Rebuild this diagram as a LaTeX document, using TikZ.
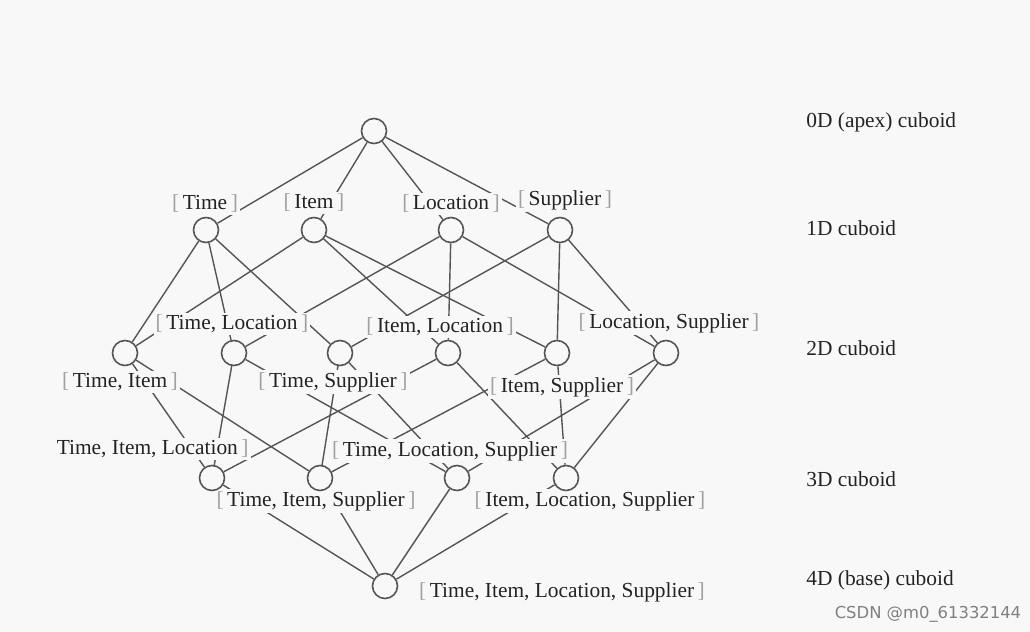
\documentclass[tikz,border=0pt]{standalone}
\usepackage{fontspec}
\setmainfont{Liberation Serif}
\newfontfamily\wmfont{DejaVu Sans}
\usepackage{tikz}
\definecolor{bg}{RGB}{248, 248, 248}
\definecolor{edge}{RGB}{85, 85, 85}
\definecolor{ink}{RGB}{35, 35, 35}
\definecolor{brk}{RGB}{160, 160, 160}
\newcommand{\lb}{{\color{brk}[}\,}
\newcommand{\rb}{\,{\color{brk}]}}
\pgfdeclarelayer{canvas}
\pgfdeclarelayer{back}
\pgfsetlayers{canvas, back, main}

\begin{document}
\begin{tikzpicture}[
   x=0.5pt, y=-0.5pt,
   cub/.style={circle, draw=edge, fill=bg, line width=0.8, inner sep=0,
               minimum size=12.5pt},
   lab/.style={fill=bg, text=ink, inner sep=1pt,
               font=\fontsize{10.7}{12}\selectfont},
   dimlab/.style={anchor=west, text=ink, inner sep=0,
                  font=\fontsize{10.7}{12}\selectfont},
   link/.style={draw=edge, line width=0.7}
  ]

  % Canvas
  \begin{pgfonlayer}{canvas}
    \fill[bg] (0, 0) rectangle (1030, 632);
  \end{pgfonlayer}
  \useasboundingbox (0, 0) rectangle (1030, 632);

  % 0D and 1D
  \node (A) at (374, 131) [cub] {};
  \node (T) at (206, 230) [cub] {};
  \node (I) at (314, 230) [cub] {};
  \node (L) at (451, 230) [cub] {};
  \node (S) at (560, 230) [cub] {};

  % 2D
  \node (TI) at (125, 353) [cub] {};
  \node (TL) at (234, 353) [cub] {};
  \node (TS) at (340, 353) [cub] {};
  \node (IL) at (448, 353) [cub] {};
  \node (IS) at (557, 353) [cub] {};
  \node (LS) at (666, 353) [cub] {};

  % 3D and 4D
  \node (TIL) at (212, 478) [cub] {};
  \node (TIS) at (320, 478) [cub] {};
  \node (TLS) at (457, 478) [cub] {};
  \node (ILS) at (566, 478) [cub] {};
  \node (TILS) at (385, 586) [cub] {};

  \begin{pgfonlayer}{back}
    \foreach \B/\E in {A/T, A/I, A/L, A/S,
                       T/TI, T/TL, T/TS, I/TI, I/IL, I/IS,
                       L/TL, L/IL, L/LS, S/TS, S/IS, S/LS,
                       TI/TIL, TI/TIS, TL/TIL, TL/TLS, TS/TIS, TS/TLS,
                       IL/TIL, IL/ILS, IS/TIS, IS/ILS, LS/TLS, LS/ILS,
                       TIL/TILS, TIS/TILS, TLS/TILS, ILS/TILS} {
      \draw[link] (\B) -- (\E);
    }

    % Labels
    \node (lT) at (205, 204) [lab] {\lb Time\rb};
    \node (lI) at (314, 203) [lab] {\lb Item\rb};
    \node (lL) at (451, 204) [lab] {\lb Location\rb};
    \node (lS) at (565, 200) [lab] {\lb Supplier\rb};

    \node (lTL) at (232, 324) [lab] {\lb Time, Location\rb};
    \node (lIL) at (440, 327) [lab] {\lb Item, Location\rb};
    \node (lLS) at (669, 323) [lab] {\lb Location, Supplier\rb};
    \node (lTI) at (120, 382) [lab] {\lb Time, Item\rb};
    \node (lTS) at (333, 382) [lab] {\lb Time, Supplier\rb};
    \node (lIS) at (562, 387) [lab] {\lb Item, Supplier\rb};

    \node (lTIL) at (251, 449) [lab, anchor=east] {Time, Item, Location\rb};
    \node (lTLS) at (450, 451) [lab] {\lb Time, Location, Supplier\rb};
    \node (lTIS) at (316, 501) [lab] {\lb Time, Item, Supplier\rb};
    \node (lILS) at (590, 501) [lab] {\lb Item, Location, Supplier\rb};

    \node (lTILS) at (562, 592) [lab] {\lb Time, Item, Location, Supplier\rb};
  \end{pgfonlayer}

  % Levels
  \node (d0) at (806, 122) [dimlab] {0D (apex) cuboid};
  \node (d1) at (806, 228) [dimlab] {1D cuboid};
  \node (d2) at (806, 348) [dimlab] {2D cuboid};
  \node (d3) at (806, 479) [dimlab] {3D cuboid};
  \node (d4) at (806, 580) [dimlab] {4D (base) cuboid};

  \node (wm) at (928, 614) [text=gray, font=\wmfont\fontsize{8.2}{10}\selectfont] {CSDN @m0\_61332144};

\end{tikzpicture}
\end{document}
